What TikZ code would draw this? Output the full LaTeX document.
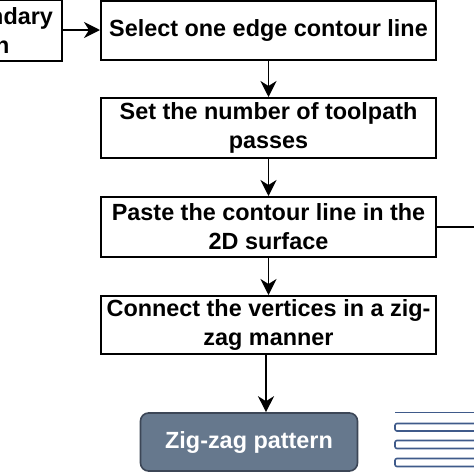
\documentclass[tikz,border=0pt]{standalone}
\usepackage{fontspec}
\setmainfont{Liberation Sans}
\usetikzlibrary{arrows.meta}
\definecolor{zzfill}{HTML}{66788D}
\definecolor{zzdraw}{HTML}{3C4656}
\definecolor{pathblue}{HTML}{3F5A8A}
\tikzset{
  stepbox/.style={draw=black, line width=2pt, fill=white, align=center,
    font=\fontsize{23.4}{29}\selectfont\bfseries, inner sep=0pt,
    minimum width=335pt},
  conn/.style={line width=1.6pt, -{Stealth[length=16pt,width=16pt,inset=5pt]}},
  plain/.style={line width=1.6pt},
  zzbox/.style={draw=zzdraw, line width=1.6pt, fill=zzfill, rounded corners=8pt,
    text=white, font=\fontsize{23.4}{29}\selectfont\bfseries,
    minimum width=217pt, minimum height=58pt, inner sep=0pt},
  toolpath/.style={draw=pathblue, line width=1.6pt, rounded corners=2pt}
}
\begin{document}
\begin{tikzpicture}[x=1pt,y=-1pt]
\useasboundingbox (0,0) rectangle (474,474);
\clip (0,0) rectangle (474,474);
% left (cut-off) box
\node[stepbox, minimum width=217pt, minimum height=61pt] (bound) at (-46.5,30.5)
  {Surface boundary\\extraction};
% main boxes
\node[stepbox, minimum height=59pt] (sel) at (268.5,30.5) {Select one edge contour line};
\node[stepbox, minimum height=60pt] (set) at (268.5,128) {Set the number of toolpath\\passes};
\node[stepbox, minimum height=60pt] (paste) at (268.5,227) {Paste the contour line in the\\2D surface};
\node[stepbox, minimum height=58pt] (conn) at (268.5,325) {Connect the vertices in a zig-\\zag manner};
\node[zzbox] (zz) at (249,442) {Zig-zag pattern};
% connectors
\draw[conn] (bound.east |- 0,30) -- (sel.west |- 0,30);
\draw[conn] (sel.south) -- (set.north);
\draw[conn] (set.south) -- (paste.north);
\draw[conn] (paste.south) -- (conn.north);
\coordinate (ax) at (266,0);
\draw[conn] (conn.south -| ax) -- (zz.north -| ax);
\coordinate (rightend) at (480,227);
\draw[plain] (paste.east) -- (rightend);
% zig-zag toolpath sketch
\draw[toolpath] (395,412.5) -- (480,412.5);
\draw[toolpath] (480,423.5) -- (395,423.5) -- (395,431) -- (480,431);
\draw[toolpath] (480,440.5) -- (395,440.5) -- (395,448.5) -- (480,448.5);
\draw[toolpath] (480,458.5) -- (395,458.5) -- (395,466.5) -- (480,466.5);
\end{tikzpicture}
\end{document}
